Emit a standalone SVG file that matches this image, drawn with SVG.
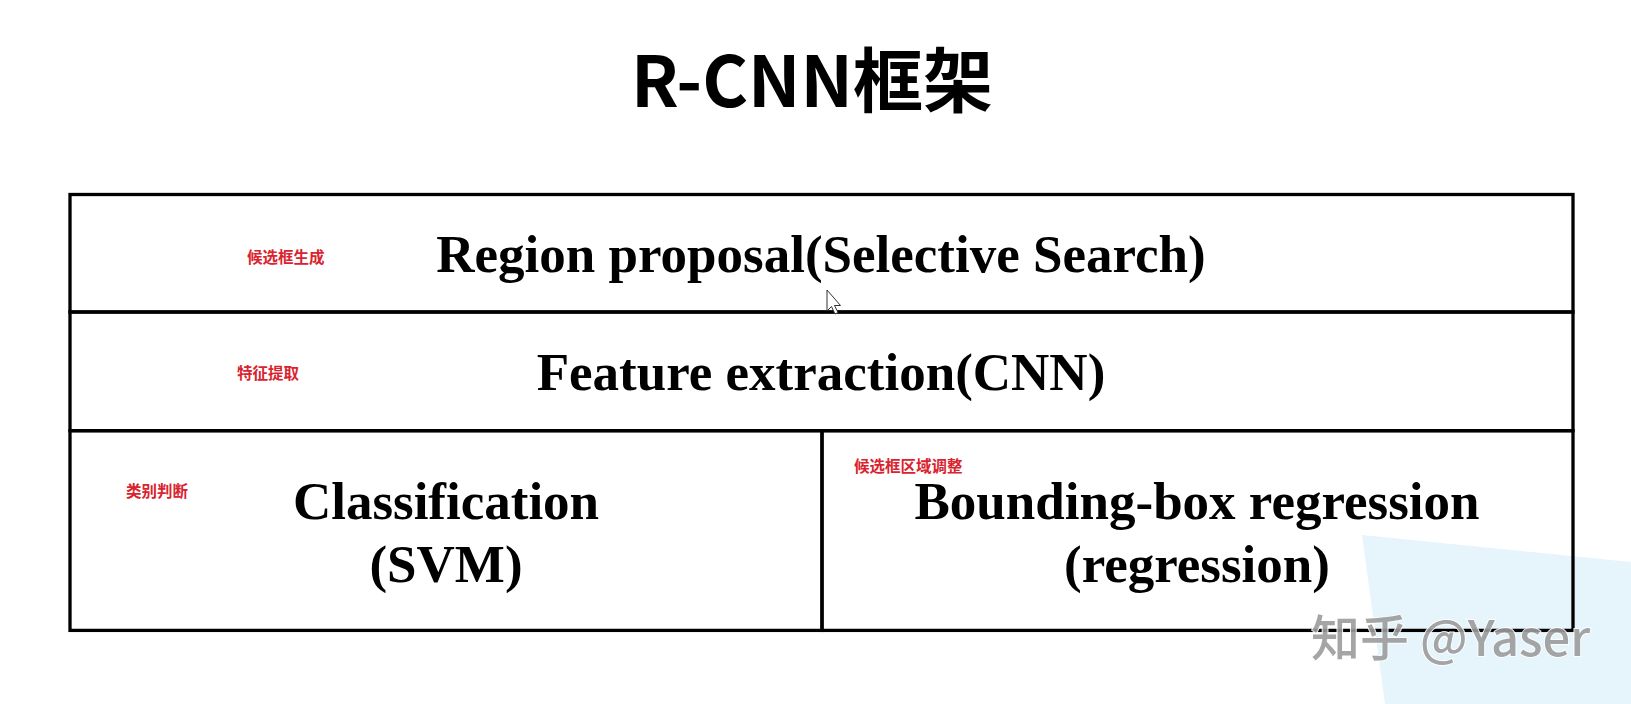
<svg xmlns="http://www.w3.org/2000/svg" width="1631" height="704" viewBox="0 0 1631 704">
<style>
.cell{fill:none;stroke:#000;stroke-width:3.3}
.main{font-family:"Liberation Serif","Times New Roman",serif;font-weight:bold;font-size:53px;fill:#000;text-anchor:middle}
.note{font-family:"Noto Sans CJK SC","Noto Sans",sans-serif;font-weight:600;font-size:15.5px;fill:#d9232e}
.title{font-family:"Noto Sans CJK SC","Noto Sans",sans-serif;font-weight:bold;font-size:70px;fill:#000;text-anchor:middle}
.wm{font-family:"Noto Sans CJK SC","Noto Sans",sans-serif;font-weight:500;font-size:49px;fill:#9c9c9c;stroke:#fff;stroke-width:2;paint-order:stroke;opacity:0.9}
</style>
<rect x="0" y="0" width="1631" height="704" fill="#fff"/>
<polygon points="1362,535 1631,562 1631,704 1385,704" fill="#e6f4fc"/>
<g id="title"><text class="title" x="812" y="107">R-CNN框架</text></g>
<g id="region-proposal">
<rect class="cell" x="70" y="194.5" width="1503" height="117.5"/>
<text class="main" x="821" y="272">Region proposal(Selective Search)</text>
<text class="note" x="247" y="263">候选框生成</text>
</g>
<g id="feature-extraction">
<rect class="cell" x="70" y="312" width="1503" height="118.7"/>
<text class="main" x="821" y="390">Feature extraction(CNN)</text>
<text class="note" x="237" y="379">特征提取</text>
</g>
<g id="classification">
<rect class="cell" x="70" y="430.7" width="752" height="199.7"/>
<text class="main" x="446" y="519">Classification</text>
<text class="main" x="446" y="582">(SVM)</text>
<text class="note" x="126" y="497">类别判断</text>
</g>
<g id="bbox-regression">
<rect class="cell" x="822" y="430.7" width="751" height="199.7"/>
<text class="main" x="1197" y="519">Bounding-box regression</text>
<text class="main" x="1197" y="582">(regression)</text>
<text class="note" x="854" y="472">候选框区域调整</text>
</g>
<g id="connectors"></g>
<path d="M827,290 L827,311 L831.5,306.5 L835,314 L838,312.5 L834.5,305.5 L840.5,305.5 Z" fill="#fff" stroke="#333" stroke-width="1"/>
<text class="wm" x="1311" y="656">知乎 @Yaser</text>
</svg>
